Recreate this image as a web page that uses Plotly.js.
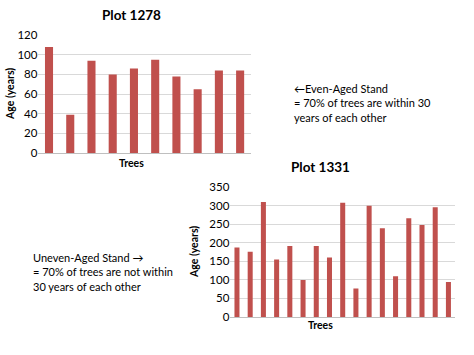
<!DOCTYPE html>
<html><head><meta charset="utf-8">
<script src="https://cdn.plot.ly/plotly-3.0.1.min.js"></script>
<style>html,body{margin:0;padding:0;background:#fff}#c{width:474px;height:355px}</style>
</head><body><div id="c"></div>
<script>
const trees1 = ["T1","T2","T3","T4","T5","T6","T7","T8","T9","T10"];
const ages1 = [108, 39, 94, 80, 86, 95, 78, 65, 84, 84];
const trees2 = ["T1","T2","T3","T4","T5","T6","T7","T8","T9","T10","T11","T12","T13","T14","T15","T16","T17"];
const ages2 = [187, 176, 310, 155, 191, 100, 191, 160, 308, 77, 300, 239, 110, 266, 248, 296, 94];
const title1 = "Plot 1278";
const title2 = "Plot 1331";
const noteEven = "\u2190Even-Aged Stand<br>= 70% of trees are within 30<br>years of each other";
const noteUneven = "Uneven-Aged Stand \u2192<br>= 70% of trees are not within<br>30 years of each other";

const barColor = "#c0504d";
const font = "Lato, 'Open Sans', 'Liberation Sans', sans-serif";
const gridColor = "#d9d9d9";

const data = [
  {type:"bar", x:trees1, y:ages1, xaxis:"x", yaxis:"y", marker:{color:barColor}, hoverinfo:"none"},
  {type:"bar", x:trees2, y:ages2, xaxis:"x2", yaxis:"y2", marker:{color:barColor}, hoverinfo:"none"}
];

const xcommon = {showticklabels:false, showgrid:false, zeroline:false, showline:true, linecolor:"#bfbfbf", linewidth:1, ticks:""};
const ycommon = {showgrid:true, gridcolor:gridColor, zeroline:false, showline:false, ticks:"", tickfont:{family:font, size:11.5, color:"#000"}};

function ann(x, y, text, size, extra) {
  return Object.assign({xref:"paper", yref:"paper", x:x/474, y:1-y/355, text:text, showarrow:false,
    xanchor:"center", yanchor:"middle", font:{family:font, size:size, color:"#000"}}, extra || {});
}

const layout = {
  width:474, height:355,
  margin:{l:0,r:0,t:0,b:0},
  paper_bgcolor:"#fff", plot_bgcolor:"#fff",
  showlegend:false,
  bargap:0.62,
  font:{family:font, color:"#000"},
  xaxis: Object.assign({}, xcommon, {domain:[0.081,0.529], anchor:"y"}),
  yaxis: Object.assign({}, ycommon, {domain:[0.569,0.901], range:[0,120], dtick:20, anchor:"x"}),
  xaxis2: Object.assign({}, xcommon, {domain:[0.486,0.960], anchor:"y2"}),
  yaxis2: Object.assign({}, ycommon, {domain:[0.107,0.473], range:[0,350], dtick:50, anchor:"x2"}),
  annotations:[
    ann(131, 15, "<b>"+title1+"</b>", 13.5),
    ann(131, 163, "<b>Trees</b>", 10.5),
    ann(10, 94, "<b>Age (years)</b>", 10.5, {textangle:-90}),
    ann(320, 167, "<b>"+title2+"</b>", 13.5),
    ann(320, 325, "<b>Trees</b>", 10.5),
    ann(194, 252, "<b>Age (years)</b>", 10.5, {textangle:-90}),
    ann(292, 103, noteEven, 11, {xanchor:"left", align:"left"}),
    ann(31, 272, noteUneven, 11, {xanchor:"left", align:"left"})
  ]
};
Plotly.newPlot("c", data, layout, {staticPlot:true, displayModeBar:false});
</script></body></html>
